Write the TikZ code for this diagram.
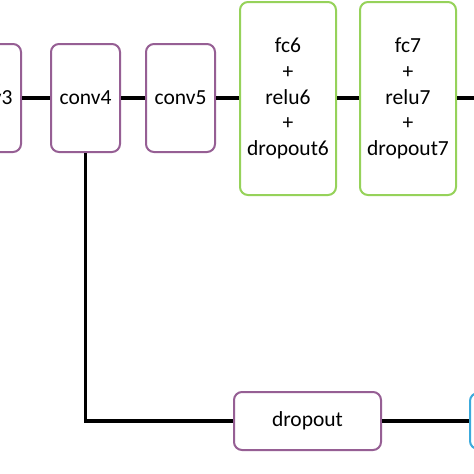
\documentclass[tikz,border=0pt]{standalone}
\usepackage{fontspec}
\setmainfont{Carlito}
\definecolor{boxpurple}{RGB}{150,95,148}
\definecolor{boxgreen}{RGB}{150,210,90}
\definecolor{boxblue}{RGB}{60,170,220}
\tikzset{
  layer/.style={draw=boxpurple, line width=2pt, rounded corners=8pt, fill=white,
    minimum width=69pt, minimum height=108pt, inner sep=0pt, font=\fontsize{21.5}{25.7}\selectfont, align=center},
  fclayer/.style={layer, draw=boxgreen, minimum width=96pt, minimum height=193pt},
  droplayer/.style={layer, minimum width=147pt, minimum height=58pt},
  outlayer/.style={layer, draw=boxblue, minimum width=80pt, minimum height=56pt},
  link/.style={line width=3.2pt, black}
}
\begin{document}
\begin{tikzpicture}[x=1pt,y=-1pt]
\useasboundingbox (0,0) rectangle (474,474);
\clip (0,0) rectangle (474,474);
\fill[white] (0,0) rectangle (474,474);
\node[layer] (conv3) at (-13.5,98) {conv3};
\node[layer] (conv4) at (85.5,98) {conv4};
\node[layer] (conv5) at (180.5,98) {conv5};
\node[fclayer] (fc6) at (288,98.5) {fc6\\+\\relu6\\+\\dropout6};
\node[fclayer] (fc7) at (408,98.5) {fc7\\+\\relu7\\+\\dropout7};
\node[droplayer] (drop) at (307.5,421) {dropout};
\node[outlayer] (out) at (510,421) {};
\coordinate (next) at (490,98);
\draw[link] (conv3.east) -- (conv4.west);
\draw[link] (conv4.east) -- (conv5.west);
\draw[link] (conv5.east) -- (fc6.west |- conv5.east);
\draw[link] (fc6.east |- conv5.east) -- (fc7.west |- conv5.east);
\draw[link] (fc7.east |- conv5.east) -- (next);
\draw[link] (conv4.south) |- (drop.west);
\draw[link] (drop.east) -- (out.west);
\end{tikzpicture}
\end{document}
